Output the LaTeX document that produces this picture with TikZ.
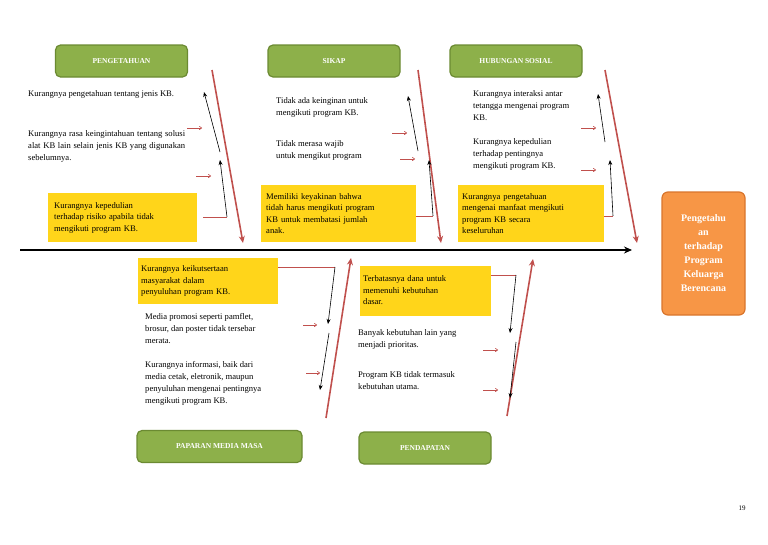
\documentclass[tikz,border=0pt]{standalone}
\usepackage{fontspec}
\setmainfont{Liberation Serif}
\usetikzlibrary{arrows.meta}
\definecolor{gfill}{HTML}{8DB04A}
\definecolor{gdraw}{HTML}{6B8A32}
\definecolor{yfill}{HTML}{FFD51A}
\definecolor{ofill}{HTML}{F79646}
\definecolor{odraw}{HTML}{D9752C}
\definecolor{bone}{HTML}{C0504D}
\begin{document}
\begin{tikzpicture}[x=1pt,y=-1pt,
  cat/.style={draw=gdraw,line width=1.2pt,fill=gfill,rounded corners=5pt,text=white,font=\bfseries\fontsize{7.5}{9}\selectfont,minimum width=132pt,minimum height=32pt,inner sep=0},
  ybox/.style={fill=yfill,anchor=north west,align=left,font=\fontsize{8.6}{11.5}\selectfont,inner sep=0,minimum height=0pt},
  txt/.style={anchor=north west,align=left,font=\fontsize{8.6}{12}\selectfont,inner sep=0},
  jtxt/.style={anchor=north west,align=justify,text width=157pt,font=\fontsize{8.6}{12}\selectfont,inner sep=0},
  bonel/.style={draw=bone,line width=1.6pt,-{Stealth[length=7pt,width=6pt]}},
  sub/.style={draw=black,line width=0.6pt,-{Stealth[length=5pt,width=4pt]}},
  rarr/.style={draw=bone,line width=0.6pt,-{To[length=3pt,width=4pt]}},
  rline/.style={draw=bone,line width=0.7pt}]
\useasboundingbox (0,0) rectangle (768,544);
% spine
\coordinate (s0) at (20,250); \coordinate (s1) at (632,250);
\draw[line width=2pt,-{Stealth[length=8pt,width=7pt]}] (s0) -- (s1);
% category boxes
\node[cat] (pen) at (121.5,61) {PENGETAHUAN};
\node[cat] (sik) at (334,61) {SIKAP};
\node[cat] (hub) at (516,61) {HUBUNGAN SOSIAL};
\node[cat,minimum width=165pt] (pap) at (219.5,446.5) {PAPARAN MEDIA MASA};
\node[cat] (pnd) at (425,448) {PENDAPATAN};
\node[draw=odraw,line width=1.2pt,fill=ofill,rounded corners=6pt,minimum width=83pt,minimum height=123pt,text width=70pt,align=center,text=white,font=\bfseries\fontsize{10}{14}\selectfont] (eff) at (703.5,253.5) {Pengetahu\\an\\terhadap\\Program\\Keluarga\\Berencana};
% main bones
\coordinate (b1a) at (212,70); \coordinate (b1b) at (243,243);
\coordinate (b2a) at (418,70); \coordinate (b2b) at (441,243);
\coordinate (b3a) at (605,70); \coordinate (b3b) at (637,243);
\coordinate (b4a) at (326,418); \coordinate (b4b) at (351,258);
\coordinate (b5a) at (507,416); \coordinate (b5b) at (533,259);
\foreach \a/\b in {b1a/b1b,b2a/b2b,b3a/b3b,b4a/b4b,b5a/b5b} \draw[bonel] (\a) -- (\b);
% upper left texts
\node[jtxt] (t1) at (28,90) {Kurangnya pengetahuan tentang jenis KB.};
\node[jtxt] (t2) at (28,130) {Kurangnya rasa keingintahuan tentang solusi alat KB lain selain jenis KB yang digunakan sebelumnya.};
\node[ybox,minimum width=149pt,minimum height=49pt,text width=137pt,inner xsep=6pt] (y1) at (48,193) {Kurangnya kepedulian\\terhadap risiko apabila tidak\\mengikuti program KB.};
\coordinate (p1a) at (220,152); \coordinate (p1b) at (204,92);
\coordinate (p2a) at (227,217); \coordinate (p2b) at (220,160);
\draw[sub] (p1a) -- (p1b); \draw[sub] (p2a) -- (p2b);
\coordinate (r1a) at (187,128); \coordinate (r1b) at (202,128);
\coordinate (r2a) at (196,176); \coordinate (r2b) at (211,176);
\draw[rarr] (r1a) -- (r1b); \draw[rarr] (r2a) -- (r2b);
\draw[rline] (y1.east |- p2a) ++(6,0) -- (p2a);
% sikap
\node[txt] (t3) at (276,97) {Tidak ada keinginan untuk\\mengikuti program KB.};
\node[txt] (t4) at (276,140) {Tidak merasa wajib\\untuk mengikut program};
\node[ybox,minimum width=155pt,minimum height=57pt,text width=145pt,inner xsep=5pt] (y2) at (261,185) {Memiliki keyakinan bahwa\\tidah harus mengikuti program\\KB untuk membatasi jumlah\\anak.};
\coordinate (p3a) at (418,151); \coordinate (p3b) at (408,96);
\coordinate (p4a) at (433,216); \coordinate (p4b) at (429,160);
\draw[sub] (p3a) -- (p3b); \draw[sub] (p4a) -- (p4b);
\coordinate (r3a) at (392,133); \coordinate (r3b) at (407,133);
\coordinate (r4a) at (400,159); \coordinate (r4b) at (415,159);
\draw[rarr] (r3a) -- (r3b); \draw[rarr] (r4a) -- (r4b);
\draw[rline] (y2.east |- p4a) -- (p4a);
% hubungan
\node[txt] (t5) at (473,90) {Kurangnya interaksi antar\\tetangga mengenai program\\KB.};
\node[txt] (t6) at (473,138) {Kurangnya kepedulian\\terhadap pentingnya\\mengikuti program KB.};
\node[ybox,minimum width=146pt,minimum height=57pt,text width=138pt,inner xsep=4pt] (y3) at (458,185) {Kurangnya pengetahuan\\mengenai manfaat mengikuti\\program KB secara\\keseluruhan};
\coordinate (p5a) at (605,142); \coordinate (p5b) at (598,94);
\coordinate (p6a) at (613,216); \coordinate (p6b) at (610,160);
\draw[sub] (p5a) -- (p5b); \draw[sub] (p6a) -- (p6b);
\coordinate (r5a) at (581,128); \coordinate (r5b) at (596,128);
\coordinate (r6a) at (581,170); \coordinate (r6b) at (596,170);
\draw[rarr] (r5a) -- (r5b); \draw[rarr] (r6a) -- (r6b);
\draw[rline] (y3.east |- p6a) -- (p6a);
% paparan
\node[ybox,minimum width=140pt,minimum height=46pt,text width=134pt,inner xsep=3pt] (y4) at (138,258) {Kurangnya keikutsertaan\\masyarakat dalam\\penyuluhan program KB.};
\node[txt] (t7) at (145,313) {Media promosi seperti pamflet,\\brosur, dan poster tidak tersebar\\merata.};
\node[txt] (t8) at (145,361) {Kurangnya informasi, baik dari\\media cetak, eletronik, maupun\\penyuluhan mengenai pentingnya\\mengikuti program KB.};
\coordinate (p7a) at (335,267); \coordinate (p7b) at (328,324);
\coordinate (p8a) at (329,333); \coordinate (p8b) at (320,390);
\draw[rline] (y4.east |- p7a) -- (p7a);
\draw[sub] (p7a) -- (p7b); \draw[sub] (p8a) -- (p8b);
\coordinate (r7a) at (303,325); \coordinate (r7b) at (317,325);
\coordinate (r8a) at (306,373); \coordinate (r8b) at (320,373);
\draw[rarr] (r7a) -- (r7b); \draw[rarr] (r8a) -- (r8b);
% pendapatan
\node[ybox,minimum width=131pt,minimum height=50pt,text width=125pt,inner xsep=3pt] (y5) at (360,266) {\\[-7pt]Terbatasnya dana untuk\\memenuhi kebutuhan\\dasar.};
\node[txt] (t9) at (358,329) {Banyak kebutuhan lain yang\\menjadi prioritas.};
\node[txt] (t10) at (358,371) {Program KB tidak termasuk\\kebutuhan utama.};
\coordinate (p9a) at (516,275); \coordinate (p9b) at (510,333);
\coordinate (p10a) at (516,342); \coordinate (p10b) at (510,398);
\draw[rline] (y5.east |- p9a) -- (p9a);
\draw[sub] (p9a) -- (p9b); \draw[sub] (p10a) -- (p10b);
\coordinate (r9a) at (483,350); \coordinate (r9b) at (498,350);
\coordinate (r10a) at (483,390); \coordinate (r10b) at (498,390);
\draw[rarr] (r9a) -- (r9b); \draw[rarr] (r10a) -- (r10b);
\node[font=\fontsize{7}{8}\selectfont] (pg) at (742,508) {19};
\end{tikzpicture}
\end{document}
